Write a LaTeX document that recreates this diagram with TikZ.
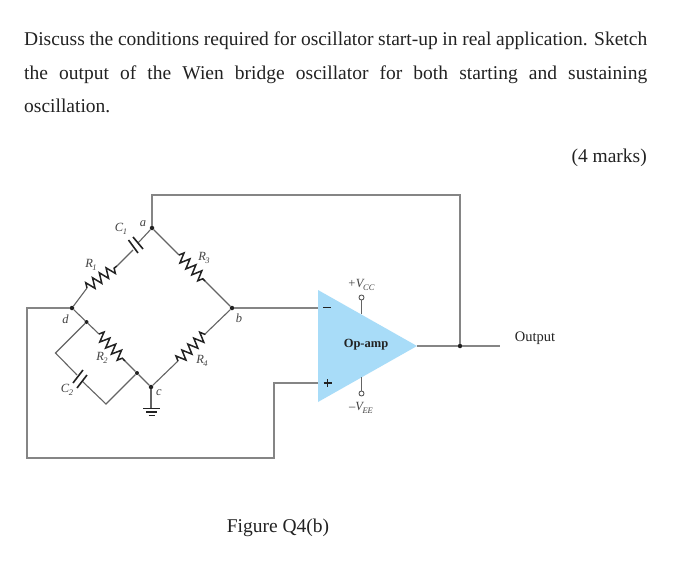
\documentclass[tikz,border=0pt]{standalone}
\usepackage{fontspec}
\setmainfont{Liberation Serif}
\usetikzlibrary{decorations.pathmorphing}
\definecolor{wire}{HTML}{858585}
\definecolor{opfill}{HTML}{A8DCF8}
\definecolor{ink}{HTML}{222222}
\newcommand{\lblsub}[2]{#1\kern-.5pt\raisebox{-.22em}{\fontsize{8.5}{9}\selectfont #2}}
\tikzset{
  x=1pt,y=-1pt,
  wirel/.style={draw=wire,line width=1.1pt},
  dark/.style={draw=ink!70,line width=1.1pt},
  zig/.style={decorate,decoration={zigzag,segment length=8.4pt,amplitude=5pt},draw=ink,line width=1.5pt},
  dotn/.style={circle,fill=ink,inner sep=0pt,minimum size=4.5pt},
  term/.style={circle,draw=ink!75,fill=white,line width=.9pt,inner sep=0pt,minimum size=5pt},
  body/.style={inner sep=0pt,text=ink,font=\fontsize{19.5}{33.5}\selectfont},
  small/.style={inner sep=0pt,text=ink!85,font=\fontsize{12.5}{14}\selectfont\itshape},
  capplate/.style={draw=ink,line width=1.6pt}
}
\begin{document}
\begin{tikzpicture}
\useasboundingbox (0,0) rectangle (700,569);
\fill[white] (0,0) rectangle (700,569);
% text
\node[body,anchor=base west] (l1) at (24,46) {\makebox[623pt][s]{Discuss the conditions required for oscillator start-up in real application. Sketch}};
\node[body,anchor=base west] (l2) at (24,80) {\makebox[623pt][s]{the output of the Wien bridge oscillator for both starting and sustaining}};
\node[body,anchor=base west] (l3) at (24,113) {oscillation.};
\node[body,anchor=base east] (mk) at (647,163) {(4 marks)};
\node[body,anchor=base] (fig) at (278,532) {Figure Q4(b)};
% op-amp
\node[coordinate] (tl) at (318,290) {};
\node[coordinate] (bl) at (318,402) {};
\node[coordinate] (tip) at (417,346) {};
\fill[opfill] (tl) -- (tip) -- (bl) -- cycle;
% bridge nodes
\node[dotn] (a) at (152,228) {};
\node[dotn] (b) at (232,308) {};
\node[dotn] (c) at (151,387) {};
\node[dotn] (d) at (72,308) {};
\node[dotn,minimum size=4pt] (e) at (86.5,322) {};
\node[dotn,minimum size=4pt] (f) at (137,373) {};
\node[coordinate] (g) at (55.5,353) {};
\node[coordinate] (h) at (106,404) {};
\node[dotn] (o) at (460,346) {};
% bridge
\node[coordinate] (r1a) at (87,288) {};
\node[coordinate] (r1b) at (117,266) {};
\node[coordinate] (c1a) at (133,250) {};
\node[coordinate] (c1b) at (138,243) {};
\node[coordinate] (r3a) at (179,255) {};
\node[coordinate] (r3b) at (205,281) {};
\node[coordinate] (r4a) at (178,361) {};
\node[coordinate] (r4b) at (205,334) {};
\node[coordinate] (r2a) at (99,334) {};
\node[coordinate] (r2b) at (125,361) {};
\node[coordinate] (c2a) at (77,375) {};
\node[coordinate] (c2b) at (82,381) {};
\draw[dark] (d) -- (r1a) (r1b) -- (c1a) (c1b) -- (a);
\draw[dark,zig] (r1a) -- (r1b);
\draw[dark] (a) -- (r3a) (r3b) -- (b);
\draw[dark,zig] (r3a) -- (r3b);
\draw[dark] (c) -- (r4a) (r4b) -- (b);
\draw[dark,zig] (r4a) -- (r4b);
\draw[dark] (d) -- (e) -- (r2a) (r2b) -- (f) -- (c);
\draw[dark,zig] (r2a) -- (r2b);
\draw[dark] (e) -- (g) -- (c2a) (c2b) -- (h) -- (f);
% capacitors
\draw[capplate] (128.5,240) -- (138,253);
\draw[capplate] (133,237) -- (143,249);
\draw[capplate] (73,383) -- (83,370);
\draw[capplate] (77,388) -- (87,375);
% ground
\node[coordinate] (gnd) at (151,408) {};
\draw[dark] (c) -- (gnd);
\draw[capplate] (143,408.5) -- (160,408.5);
\draw[capplate] (146,412) -- (157,412);
\draw[capplate] (148.5,415.5) -- (154.5,415.5);
% wires
\node[coordinate] (t1) at (152,195) {};
\node[coordinate] (t2) at (460,195) {};
\node[coordinate] (l1w) at (27,308) {};
\node[coordinate] (l2w) at (27,458) {};
\node[coordinate] (l3w) at (274,458) {};
\node[coordinate] (l4w) at (274,383) {};
\node[coordinate] (inm) at (318,308) {};
\node[coordinate] (inp) at (318,383) {};
\node[coordinate] (out) at (500,346) {};
\draw[wirel] (a) -- (t1) -- (t2) -- (o);
\draw[wirel] (d) -- (l1w) -- (l2w) -- (l3w) -- (l4w) -- (inp);
\draw[wirel] (b) -- (inm);
\draw[wirel] (tip) -- (o) -- (out);
% supplies
\node[term] (vcc) at (361.5,297.5) {};
\node[term] (vee) at (361.5,393.5) {};
\node[coordinate] (vccb) at (361.5,313.5) {};
\node[coordinate] (veet) at (361.5,377) {};
\draw[dark] (vcc) -- (vccb);
\draw[dark] (vee) -- (veet);
% op-amp marks
\draw[ink,line width=1.8pt] (323,307.5) -- (331,307.5);
\draw[ink,line width=1.5pt] (323.5,383) -- (331.5,383) (327.5,379) -- (327.5,387);
% labels
\node[inner sep=0pt,text=ink,font=\fontsize{12.5}{14}\selectfont\bfseries] (op) at (366,345) {Op-amp};
\node[inner sep=0pt,text=ink,font=\fontsize{14.5}{16}\selectfont] (ol) at (535,338) {Output};
\node[small] (lvcc) at (361,285) {+\lblsub{V}{CC}};
\node[small] (lvee) at (361,408) {\textendash\lblsub{V}{EE}};
\node[small] at (143,224) {a};
\node[small] at (239,318) {b};
\node[small] at (159,393) {c};
\node[small] at (65.5,319) {d};
\node[small] at (121,229) {\lblsub{C}{1}};
\node[small] at (91,265) {\lblsub{R}{1}};
\node[small] at (204,258) {\lblsub{R}{3}};
\node[small] at (102,358) {\lblsub{R}{2}};
\node[small] at (202,361) {\lblsub{R}{4}};
\node[small] at (67,390) {\lblsub{C}{2}};
\end{tikzpicture}
\end{document}
